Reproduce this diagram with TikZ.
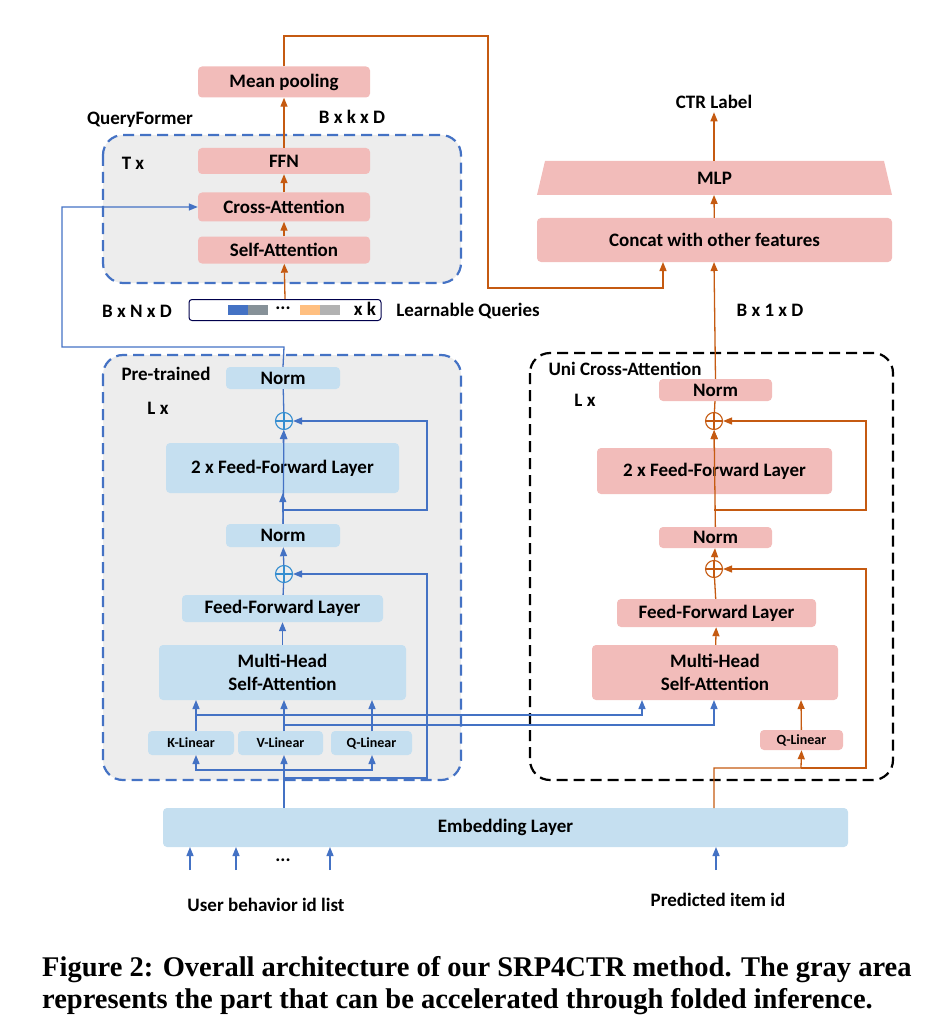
\documentclass[tikz,border=0pt]{standalone}
\usepackage{fontspec}
\setmainfont{Carlito}
\newfontfamily\capfont{Liberation Serif}
\usetikzlibrary{arrows.meta}
\definecolor{pk}{HTML}{F2BCBA}
\definecolor{lb}{HTML}{C5DFF0}
\definecolor{org}{HTML}{C55A11}
\definecolor{bl}{HTML}{4472C4}
\definecolor{gr}{HTML}{EDEDED}
\begin{document}
\begin{tikzpicture}[x=1pt,y=-1pt,
 box/.style={rounded corners=4pt,inner sep=0pt,font=\fontsize{19}{21}\selectfont\bfseries},
 pb/.style={box,fill=pk},
 bb/.style={box,fill=lb},
 sm/.style={font=\fontsize{14}{16}\selectfont\bfseries},
 lbl/.style={font=\fontsize{19}{21}\selectfont\bfseries},
 oa/.style={draw=org,line width=1.3pt,-{Triangle[length=9pt,width=7pt]}},
 ol/.style={draw=org,line width=1.3pt},
 ba/.style={draw=bl,line width=1.3pt,-{Triangle[length=9pt,width=7pt]}},
 bln/.style={draw=bl,line width=1.3pt},
 op/.style={circle,draw,line width=1.1pt,minimum size=17pt,inner sep=0pt,path picture={\draw (path picture bounding box.north)--(path picture bounding box.south) (path picture bounding box.west)--(path picture bounding box.east);}}]
\useasboundingbox (0,0) rectangle (932,1032);
% containers
\draw[bl,line width=2.2pt,dash pattern=on 11pt off 6pt,fill=gr,rounded corners=20pt] (103,135) rectangle (461,283);
\draw[bl,line width=2.2pt,dash pattern=on 11pt off 6pt,fill=gr,rounded corners=20pt] (103,355) rectangle (461,780);
\draw[black,line width=2.2pt,dash pattern=on 11pt off 6pt,rounded corners=20pt] (530,353) rectangle (893,780);
\node[lbl] (qf) at (140,120) {QueryFormer};
\node[lbl] (tx) at (133,163) {T x};
\node[lbl] (pt) at (166,374) {Pre-trained};
\node[lbl] (lx1) at (158,408) {L x};
\node[lbl] (uc) at (625,369) {Uni Cross-Attention};
\node[lbl] (lx2) at (585,400) {L x};
% QueryFormer
\node[pb,minimum width=172pt,minimum height=31pt] (mp) at (284,82) {Mean pooling};
\node[pb,minimum width=172pt,minimum height=26pt] (ffn) at (284,161) {FFN};
\node[pb,minimum width=172pt,minimum height=29pt] (ca) at (284,207) {Cross-Attention};
\node[pb,minimum width=172pt,minimum height=27pt] (sa) at (284,250) {Self-Attention};
\node[lbl] (bkd) at (352,117) {B x k x D};
\node[draw=black!70!blue,line width=1pt,rounded corners=3pt,minimum width=192pt,minimum height=21pt] (lq) at (285,310) {};
\fill[bl] (228,305) rectangle (248,315);
\fill[black!30!lb!60!gray] (248,305) rectangle (268,315);
\node[lbl] (dots1) at (283,308) {...};
\fill[orange!50] (300,305) rectangle (320,315);
\fill[gray!60] (320,305) rectangle (340,315);
\node[lbl] (xk) at (365,309) {x k};
\node[lbl] (lqt) at (468,311) {Learnable Queries};
\node[lbl] (bnd) at (137,311) {B x N x D};
\draw[oa] (lq.north) -- (sa);
\draw[oa] (sa) -- (ca);
\draw[oa] (ca) -- (ffn);
\draw[oa] (ffn) -- (mp);
% right top
\node[pb,minimum width=355pt,minimum height=44pt] (cc) at (714.5,240) {Concat with other features};
\fill[pk] (537,195) -- (545,161) -- (884,161) -- (892,195) -- cycle;
\node[lbl] (mlp) at (714.5,178) {MLP};
\coordinate (mlpb) at (714,195); \coordinate (mlpt) at (714,161);
\node[lbl] (ctr) at (714,102) {CTR Label};
\draw[oa] (cc) -- (mlpb);
\draw[oa] (mlpt) -- (ctr);
\coordinate (c1) at (284,36); \coordinate (c2) at (488,36); \coordinate (c3) at (488,288); \coordinate (c4) at (663,288);
\draw[oa] (mp.north) -- (c1) -- (c2) -- (c3) -- (c4) -- (663,262);
\node[lbl] (b1d) at (770,310) {B x 1 x D};
% pretrained
\node[bb,minimum width=114pt,minimum height=22pt] (n1) at (283,378) {Norm};
\node[op,draw=bl!80!cyan] (o1) at (284,421) {};
\node[bb,minimum width=233pt,minimum height=50pt] (f2) at (282.5,468) {2 x Feed-Forward Layer};
\node[bb,minimum width=114pt,minimum height=23pt] (n2) at (283,535.5) {Norm};
\node[op,draw=bl!80!cyan] (o2) at (284,574) {};
\node[bb,minimum width=201pt,minimum height=27pt] (f1) at (282.5,608.5) {Feed-Forward Layer};
\node[bb,minimum width=247pt,minimum height=55pt,align=center,font=\fontsize{19}{23}\selectfont\bfseries] (mh) at (282.5,672.5) {Multi-Head\\Self-Attention};
\node[bb,minimum width=86pt,minimum height=24pt,sm] (kl) at (191,743) {K-Linear};
\node[bb,minimum width=85pt,minimum height=24pt,sm] (vl) at (280.5,743) {V-Linear};
\node[bb,minimum width=81pt,minimum height=24pt,sm] (ql) at (371.5,743) {Q-Linear};
\node[bb,minimum width=685pt,minimum height=39pt] (emb) at (505.5,827.5) {Embedding Layer};
\draw[ba] (n2) -- (o1);
\draw[bln] (o1) -- (n1);
\draw[ba] (o2) -- (n2);
\draw[ba] (f2) -- (o1);
\draw[ba] (n2.north) -- (f2);
\draw[bln] (f1) -- (o2);
\draw[ba] (mh) -- (f1);
\draw[ba] (284,808) -- (284,755);
\draw[ba] (284,770) -- (196,770) -- (196,755);
\draw[ba] (284,770) -- (372,770) -- (372,755);
\draw[ba] (196,731) -- (196,700);
\draw[ba] (284,731) -- (284,700);
\draw[ba] (372,731) -- (372,700);
\draw[ba] (196,715) -- (642,715) -- (642,700);
\draw[ba] (284,725) -- (714,725) -- (714,700);
\draw[ba] (284,510) -- (427,510) -- (427,421) -- (o1.east);
\draw[ba] (284,778) -- (427,778) -- (427,574) -- (o2.east);
\coordinate (q1) at (284,347); \coordinate (q2) at (62,347); \coordinate (q3) at (62,207);
\draw[ba] (n1.north) -- (q1) -- (q2) -- (q3) -- (ca.west);
% uni
\node[pb,minimum width=113pt,minimum height=22pt] (m1) at (715.5,390) {Norm};
\node[op,draw=org] (u1) at (714,421) {};
\node[pb,minimum width=235pt,minimum height=46pt] (g2) at (714.5,471) {2 x Feed-Forward Layer};
\node[pb,minimum width=113pt,minimum height=21pt] (m2) at (715.5,537.5) {Norm};
\node[op,draw=org] (u2) at (714,569) {};
\node[pb,minimum width=199pt,minimum height=28pt] (g1) at (716.5,613) {Feed-Forward Layer};
\node[pb,minimum width=246pt,minimum height=55pt,align=center,font=\fontsize{19}{23}\selectfont\bfseries] (mh2) at (715,672.5) {Multi-Head\\Self-Attention};
\node[pb,minimum width=83pt,minimum height=20pt,sm] (uq) at (801.5,740) {Q-Linear};
\draw[ol] (u1) -- (m1);
\draw[oa] (m2) -- (u1);
\draw[oa] (g2) -- (u1);
\draw[oa] (u2) -- (m2);
\draw[ol] (g1) -- (u2);
\draw[oa] (mh2) -- (g1);
\draw[oa] (uq) -- (801,700);
\draw[oa] (714,808) -- (714,768) -- (801,768) -- (uq.south);
\draw[oa] (801,768) -- (866,768) -- (866,569) -- (u2.east);
\draw[oa] (714,510) -- (866,510) -- (866,421) -- (u1.east);
\draw[oa] (m1.north) -- (714,262);
% inputs
\foreach \x/\n in {190/a,236/b,330/c,716/d} \draw[ba] (\x,870) -- (\x,847);
\node[lbl] (dots2) at (283,860) {...};
\node[lbl] (ub) at (266,905) {User behavior id list};
\node[lbl] (pi) at (718,900) {Predicted item id};
\node[anchor=west,inner sep=0pt,font=\capfont\fontsize{28.5}{32}\selectfont\bfseries,align=left] (cap) at (42,986) {Figure 2: Overall architecture of our SRP4CTR method. The gray area\\represents the part that can be accelerated through folded inference.};
\end{tikzpicture}
\end{document}
